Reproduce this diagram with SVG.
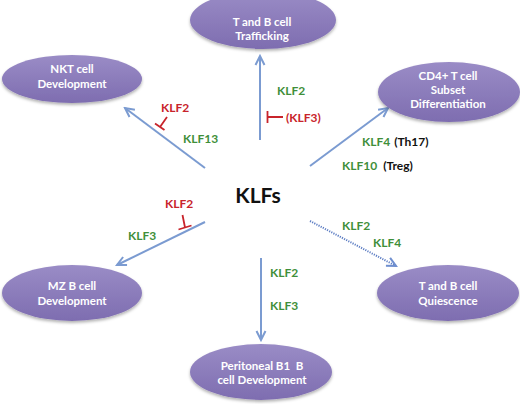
<svg xmlns="http://www.w3.org/2000/svg" width="520" height="404" viewBox="0 0 520 404">
<defs>
<linearGradient id="g" x1="0" y1="0" x2="0" y2="1">
<stop offset="0" stop-color="#9a8cc6"/>
<stop offset="1" stop-color="#7e6db0"/>
</linearGradient>
<filter id="sh" x="-10%" y="-10%" width="120%" height="130%">
<feDropShadow dx="0" dy="2" stdDeviation="1.5" flood-color="#000" flood-opacity="0.3"/>
</filter>
<marker id="ah" markerWidth="12" markerHeight="12" refX="10" refY="6" orient="auto" markerUnits="userSpaceOnUse">
<path d="M1,1.5 L10,6 L1,10.5" fill="none" stroke="#7b9bd1" stroke-width="2" stroke-linejoin="miter"/>
</marker>
<marker id="ahd" markerWidth="12" markerHeight="12" refX="10" refY="6" orient="auto" markerUnits="userSpaceOnUse">
<path d="M1,1.5 L10,6 L1,10.5" fill="none" stroke="#6f8fcf" stroke-width="2"/>
</marker>
</defs>
<style>
.node ellipse{fill:url(#g);filter:url(#sh)}
.node text{fill:#fff;font-family:Lato,"Open Sans",sans-serif;font-weight:bold;font-size:11.5px;text-anchor:middle}
.ln{stroke:#7b9bd1;stroke-width:2;fill:none;marker-end:url(#ah)}
.dot{stroke:#5f7fc4;stroke-width:2;fill:none;stroke-dasharray:1.2 1.2;marker-end:url(#ahd)}
.inh{stroke:#c8242b;stroke-width:1.8;fill:none}
.lbl{font-family:Lato,"Open Sans",sans-serif;font-weight:bold;font-size:12px}
.gr{fill:#3f8f3a}
.rd{fill:#c8242b}
.bk{fill:#111}
</style>
<rect width="520" height="404" fill="#fff"/>
<g id="connectors">
<line class="ln" x1="260" y1="140" x2="260" y2="56"/>
<line class="ln" x1="205" y1="168" x2="125" y2="108"/>
<line class="ln" x1="310" y1="166" x2="388" y2="108"/>
<line class="ln" x1="205" y1="222" x2="117" y2="265"/>
<line class="dot" x1="310" y1="221" x2="396" y2="266"/>
<line class="ln" x1="261" y1="258" x2="261" y2="340"/>
<path class="inh" d="M167,117 L160,127 M155,123.5 L164.5,130"/>
<path class="inh" d="M283,117 L267.5,117 M267.5,111 L267.5,123"/>
<path class="inh" d="M182.5,215 L185,227.5 M178.5,229.5 L191.5,225.5"/>
</g>
<g id="labels">
<text class="lbl rd" x="161" y="112">KLF2</text>
<text class="lbl gr" x="183" y="143">KLF13</text>
<text class="lbl gr" x="277" y="95">KLF2</text>
<text class="lbl rd" x="286" y="122">(KLF3)</text>
<text class="lbl" x="362" y="146"><tspan class="gr">KLF4</tspan><tspan class="bk" dx="4">(Th17)</tspan></text>
<text class="lbl" x="342" y="170"><tspan class="gr">KLF10</tspan><tspan class="bk" dx="6">(Treg)</tspan></text>
<text class="lbl rd" x="165" y="208">KLF2</text>
<text class="lbl gr" x="128" y="240">KLF3</text>
<text class="lbl gr" x="342" y="230">KLF2</text>
<text class="lbl gr" x="373" y="247">KLF4</text>
<text class="lbl gr" x="270" y="277">KLF2</text>
<text class="lbl gr" x="270" y="310">KLF3</text>
</g>
<g id="klfs">
<text x="258" y="203" font-family="Lato,'Open Sans',sans-serif" font-weight="bold" font-size="21" text-anchor="middle" fill="#111">KLFs</text>
</g>
<g id="n-trafficking" class="node">
<ellipse cx="263" cy="20" rx="73" ry="29"/>
<text x="262" y="26">T and B cell</text>
<text x="262" y="40">Trafficking</text>
</g>
<g id="n-nkt" class="node">
<ellipse cx="72" cy="79" rx="70" ry="24"/>
<text x="72" y="73">NKT cell</text>
<text x="72" y="88">Development</text>
</g>
<g id="n-cd4" class="node">
<ellipse cx="449" cy="92" rx="71" ry="30"/>
<text x="448" y="80">CD4+ T cell</text>
<text x="448" y="94">Subset</text>
<text x="448" y="108">Differentiation</text>
</g>
<g id="n-mz" class="node">
<ellipse cx="72" cy="293" rx="70" ry="28"/>
<text x="72" y="290">MZ B cell</text>
<text x="72" y="305">Development</text>
</g>
<g id="n-quiescence" class="node">
<ellipse cx="448" cy="293" rx="71" ry="28"/>
<text x="448" y="290">T and B cell</text>
<text x="448" y="305">Quiescence</text>
</g>
<g id="n-peritoneal" class="node">
<ellipse cx="261" cy="372" rx="71" ry="28"/>
<text x="262" y="370" xml:space="preserve">Peritoneal B1  B</text>
<text x="262" y="384">cell Development</text>
</g>
</svg>
